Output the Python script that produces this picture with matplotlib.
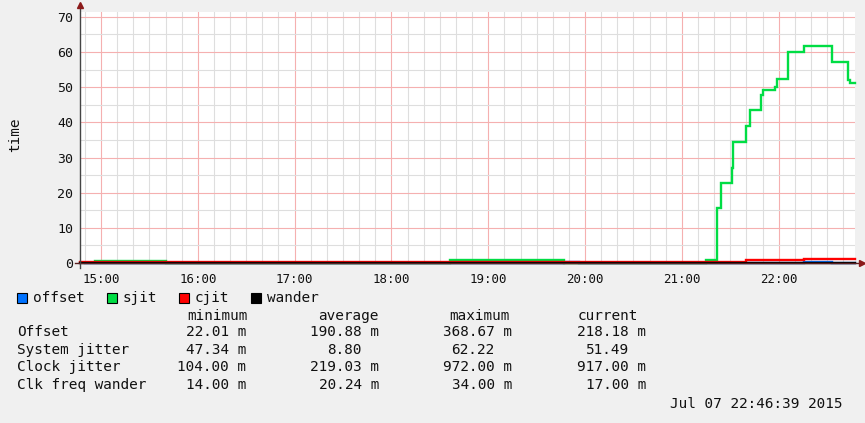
import matplotlib
matplotlib.use("Agg")
import matplotlib.pyplot as plt
from matplotlib.patches import Rectangle
from matplotlib.ticker import MultipleLocator, FuncFormatter

# ----------------------------
# Data (times as HH:MM)
# ----------------------------
sjit_times = ["14:56", "15:40", "18:36", "19:47", "21:15", "21:22", "21:24", "21:31",
              "21:32", "21:40", "21:42", "21:49", "21:50", "21:58", "21:59", "22:06",
              "22:16", "22:33", "22:43", "22:44", "22:47"]
sjit_vals = [0.5, 0.05, 0.8, 0.05, 0.8, 15.6, 22.7, 26.9,
             34.3, 39.0, 43.5, 47.8, 49.2, 50.0, 52.3, 60.0,
             61.8, 57.3, 52.1, 51.2, 51.2]

offset_times = ["14:50", "15:49", "16:32", "19:47", "19:56", "22:16", "22:33", "22:47"]
offset_vals = [0.05, 0.12, 0.05, 0.25, 0.1, 0.4, 0.1, 0.1]

cjit_times = ["14:47", "21:40", "22:16", "22:47"]
cjit_vals = [0.2, 0.8, 1.05, 1.05]

wander_times = ["14:47", "22:47"]
wander_vals = [0.0, 0.0]

hour_ticks = [15, 16, 17, 18, 19, 20, 21, 22]

legend_names = ["offset", "sjit", "cjit", "wander"]
legend_colors = ["#0072FF", "#00DD44", "#FF0000", "#000000"]

row_names = ["Offset", "System jitter", "Clock jitter", "Clk freq wander"]
col_names = ["minimum", "average", "maximum", "current"]
minimum = ["22.01 m", "47.34 m", "104.00 m", "14.00 m"]
average = ["190.88 m", "8.80", "219.03 m", "20.24 m"]
maximum = ["368.67 m", "62.22", "972.00 m", "34.00 m"]
current = ["218.18 m", "51.49", "917.00 m", "17.00 m"]
stamp = "Jul 07 22:46:39 2015"


def hours(ts):
    out = []
    for t in ts:
        h, m = t.split(":")
        out.append(int(h) + int(m) / 60.0)
    return out


W, H = 865, 423
BG = "#F0F0F0"
MONO = "DejaVu Sans Mono"
FS = 10.4

fig = plt.figure(figsize=(W / 100, H / 100), dpi=100, facecolor=BG)
ax = fig.add_axes([80 / W, 1 - 263 / H, 775 / W, 251 / H])
ax.set_facecolor("white")

ax.set_xlim(14 + 47 / 60, 22 + 47.3 / 60)
ax.set_ylim(0, 71.4)

# ----------------------------
# Grid
# ----------------------------
ax.set_xticks(hour_ticks)
ax.xaxis.set_minor_locator(MultipleLocator(1 / 6))
ax.yaxis.set_major_locator(MultipleLocator(10))
ax.yaxis.set_minor_locator(MultipleLocator(5))
ax.grid(which="minor", color="#DEDEDE", lw=0.8)
ax.grid(which="major", color="#F5B0B0", lw=0.8)
ax.set_axisbelow(True)

ax.xaxis.set_major_formatter(FuncFormatter(lambda v, p: "%02d:00" % round(v)))
ax.tick_params(which="both", length=0, colors="#111111")
ax.tick_params(axis="x", pad=7, labelsize=9)
ax.tick_params(axis="y", pad=5, labelsize=9.5)
for lab in ax.get_xticklabels() + ax.get_yticklabels():
    lab.set_family(MONO)
for s in ax.spines.values():
    s.set_visible(False)

# ----------------------------
# Series
# ----------------------------
series = [(offset_times, offset_vals), (sjit_times, sjit_vals),
          (cjit_times, cjit_vals), (wander_times, wander_vals)]
for (ts, vs), col in zip(series, legend_colors):
    ax.plot(hours(ts), vs, drawstyle="steps-post", color=col, lw=1.7,
            solid_joinstyle="miter", clip_on=False, zorder=3)

# axes with arrows
ax.plot([-5 / 775, 1 + 6 / 775], [0, 0], color="#5A2020", lw=1,
        transform=ax.transAxes, clip_on=False, zorder=4)
ax.plot([0, 0], [-5 / 251, 1 + 6 / 251], color="#444444", lw=1,
        transform=ax.transAxes, clip_on=False, zorder=4)
ax.plot([1 + 7 / 775], [0], marker=">", ms=5, color="#8B1A1A",
        transform=ax.transAxes, clip_on=False, zorder=5)
ax.plot([0], [1 + 7 / 251], marker="^", ms=5, color="#8B1A1A",
        transform=ax.transAxes, clip_on=False, zorder=5)

fig.text(15 / W, 1 - 135 / H, "time", rotation=90, family=MONO, fontsize=FS,
         ha="center", va="center", color="#111111")


# ----------------------------
# Legend and stats table
# ----------------------------
def fy(y):
    return 1 - y / H


leg_x = [17, 107, 179, 251]
for x, name, col in zip(leg_x, legend_names, legend_colors):
    fig.patches.append(Rectangle((x / W, fy(303)), 10 / W, 10 / H, transform=fig.transFigure,
                                 facecolor=col, edgecolor="black", lw=0.8))
    fig.text((x + 16) / W, fy(298), name, family=MONO, fontsize=FS, va="center", color="#111111")

head_x = [187, 318, 449, 578]
for x, name in zip(head_x, col_names):
    fig.text(x / W, fy(316), name, family=MONO, fontsize=FS, va="center", color="#111111")

row_y = [332, 350, 367, 385]
col_right = [246, 379, 512, 646]
cols = [minimum, average, maximum, current]
for i, (y, name) in enumerate(zip(row_y, row_names)):
    fig.text(17 / W, fy(y), name, family=MONO, fontsize=FS, va="center", color="#111111")
    for xr, col in zip(col_right, cols):
        txt = col[i]
        if not txt.endswith(" m"):
            xr -= 17.4
        fig.text(xr / W, fy(y), txt, family=MONO, fontsize=FS, va="center", ha="right",
                 color="#111111")

fig.text(842 / W, fy(404), stamp, family=MONO, fontsize=FS, va="center", ha="right",
         color="#111111")

fig.savefig("out.png", dpi=100, facecolor=BG)
